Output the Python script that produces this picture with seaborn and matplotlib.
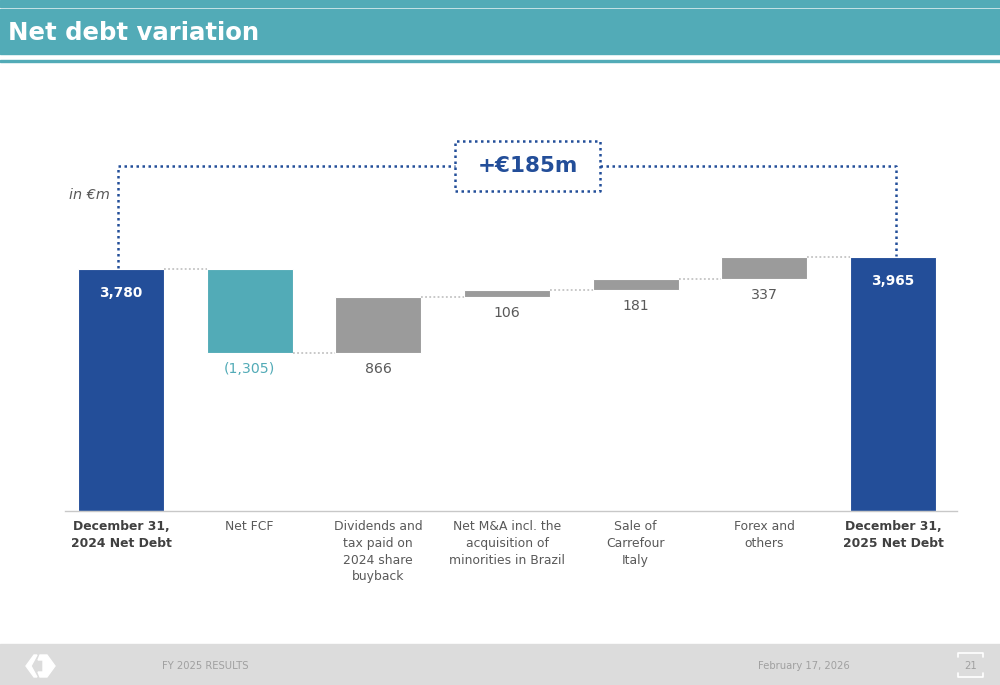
import matplotlib
matplotlib.use('Agg')

import numpy as np
import pandas as pd
import matplotlib.pyplot as plt
from matplotlib.patches import Rectangle, Polygon
import seaborn as sns

# 資料
categories = ["December 31,\n2024 Net Debt", "Net FCF", "Dividends and\ntax paid on\n2024 share\nbuyback",
              "Net M&A incl. the\nacquisition of\nminorities in Brazil", "Sale of\nCarrefour\nItaly",
              "Forex and\nothers", "December 31,\n2025 Net Debt"]
values = [3780, -1305, 866, 106, 181, 337, 3965]
value_labels = ["3,780", "(1,305)", "866", "106", "181", "337", "3,965"]
kinds = ["total", "delta", "delta", "delta", "delta", "delta", "total"]
variation_label = "+€185m"

BLUE = "#234e99"
TEAL = "#52abb7"
GREY = "#9b9b9b"
TXT = "#595959"

# 瀑布圖的底部與高度
bottoms, heights, levels = [], [], []
level = 0
for v, k in zip(values, kinds):
    if k == "total":
        bottoms.append(0)
        heights.append(v)
        level = v
    else:
        bottoms.append(min(level, level + v))
        heights.append(abs(v))
        level = level + v
    levels.append(level)

df = pd.DataFrame({"cat": categories, "height": heights})
colors = [BLUE if k == "total" else (TEAL if v < 0 else GREY) for v, k in zip(values, kinds)]

sns.set_style("white")
plt.rcParams['font.family'] = ['DejaVu Sans']

fig = plt.figure(figsize=(10, 6.85), dpi=100)
ax = fig.add_axes([0.065, (685 - 511) / 685, 0.892, (511 - 130) / 685])

sns.barplot(data=df, x="cat", y="height", order=categories, bottom=np.array(bottoms),
            width=0.668, color=GREY, ax=ax, errorbar=None, edgecolor="white", linewidth=0.8)
for patch, c in zip(ax.patches, colors):
    patch.set_facecolor(c)

ax.set_xlim(-0.435, 6.497)
ax.set_ylim(0, 5953)
for s in ["top", "right", "left"]:
    ax.spines[s].set_visible(False)
ax.spines["bottom"].set_color("#c8c8c8")
ax.spines["bottom"].set_linewidth(1.0)
ax.set_yticks([])
ax.set_xlabel("")
ax.set_ylabel("")
ax.tick_params(axis="x", length=0, pad=6.5)
ax.set_xticks(range(len(categories)))
ax.set_xticklabels(categories, fontsize=8.9, linespacing=1.38, va="top")
for lab, k in zip(ax.get_xticklabels(), kinds):
    if k == "total":
        lab.set_fontweight("bold")
        lab.set_color("#404040")
    else:
        lab.set_color(TXT)

# 連接虛線
w = 0.668
for i in range(len(values) - 1):
    ax.plot([i + w / 2, i + 1 - w / 2], [levels[i], levels[i]], color="#c4c4c4",
            lw=1.3, ls=(0, (1, 1.3)), solid_capstyle="butt")

# 數值標籤
px = 0.064  # pixels per unit
for i, (b, h, k, v, t) in enumerate(zip(bottoms, heights, kinds, values, value_labels)):
    if k == "total":
        ax.text(i, (b + h) - 24 / px, t, ha="center", va="center", color="white",
                fontsize=9.8, fontweight="bold")
    else:
        ax.text(i, b - 16 / px, t, ha="center", va="center",
                color=TEAL if v < 0 else TXT, fontsize=10.2)

# 變動括號
y_br = (511 - 166) / px
box_l, box_r = (455 - 121) / 128.67, (600 - 121) / 128.67
box_t, box_b = (511 - 141) / px, (511 - 191) / px
dot = dict(color=BLUE, lw=1.8, ls=(0, (1, 1.4)), dash_capstyle="butt", clip_on=False)
ax.plot([-0.02, -0.02, box_l], [levels[0] + 20, y_br, y_br], **dot)
ax.plot([box_r, 6.02, 6.02], [y_br, y_br, levels[-1] + 20], **dot)
ax.plot([box_l, box_r, box_r, box_l, box_l], [box_b, box_b, box_t, box_t, box_b], **dot)
ax.text((box_l + box_r) / 2, (box_t + box_b) / 2, variation_label, ha="center", va="center",
        color=BLUE, fontsize=15.5, fontweight="bold")
ax.text(-0.085, (511 - 195) / px, "in €m", ha="right", va="center", color=TXT,
        fontsize=10.4, style="italic")

# 標題列
fig.patches.append(Rectangle((0, 1 - 7 / 685), 1, 7 / 685, transform=fig.transFigure,
                             color=TEAL, zorder=0))
fig.patches.append(Rectangle((0, 1 - 54 / 685), 1, 45 / 685, transform=fig.transFigure,
                             color=TEAL, zorder=0))
fig.patches.append(Rectangle((0, 1 - 62 / 685), 1, 2 / 685, transform=fig.transFigure,
                             color=TEAL, zorder=0))
fig.text(0.008, 1 - 33 / 685, "Net debt variation", color="white", fontsize=17.6,
         fontweight="bold", ha="left", va="center")

# 頁尾
fig.patches.append(Rectangle((0, 0), 1, 41 / 685, transform=fig.transFigure,
                             color="#dcdcdc", zorder=0))
fy = 1 - 666 / 685
fig.text(0.162, fy, "FY 2025 RESULTS", color="#a0a0a0", fontsize=7.2, ha="left", va="center")
fig.text(0.758, fy, "February 17, 2026", color="#a0a0a0", fontsize=7.2, ha="left", va="center")
fig.text(0.9705, fy, "21", color="#a0a0a0", fontsize=7.2, ha="center", va="center")
for xs, ys in [([958, 958, 983, 983], [657, 653, 653, 657]), ([958, 958, 983, 983], [673, 677, 677, 673])]:
    fig.add_artist(plt.Line2D([x / 1000 for x in xs], [1 - y / 685 for y in ys],
                              color="white", lw=1.2, transform=fig.transFigure))

# Logo 近似
def fpt(x, y):
    return (x / 1000, 1 - y / 685)

fig.patches.append(Polygon([fpt(34, 655), fpt(26, 666), fpt(34, 677), fpt(37, 677), fpt(31, 666), fpt(37, 655)],
                           closed=True, transform=fig.transFigure, color="white"))
fig.patches.append(Polygon([fpt(40, 655), fpt(47, 655), fpt(55, 666), fpt(47, 677), fpt(40, 677),
                            fpt(38, 672), fpt(43, 672), fpt(43, 660), fpt(38, 660)],
                           closed=True, transform=fig.transFigure, color="white"))

plt.savefig("out.png", dpi=100)
